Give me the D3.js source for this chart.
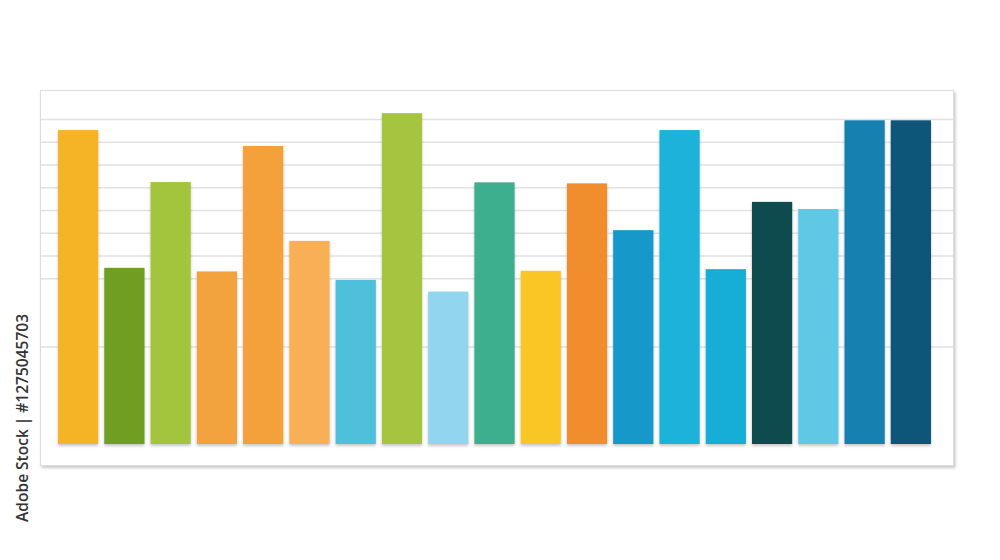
<!DOCTYPE html>
<html>
<head>
<meta charset="utf-8">
<script src="https://cdn.jsdelivr.net/npm/d3@7"></script>
<style>
  html, body { margin: 0; padding: 0; background: #ffffff; }
  svg { display: block; }
</style>
</head>
<body>
<svg id="chart" width="1000" height="560"></svg>
<script>
// ---- data ----
const categories = ["B1","B2","B3","B4","B5","B6","B7","B8","B9","B10","B11","B12","B13","B14","B15","B16","B17","B18","B19"];
const values = [96.6, 54.2, 80.6, 53.1, 91.7, 62.5, 50.5, 101.8, 46.9, 80.5, 53.3, 80.2, 65.8, 96.6, 53.8, 74.5, 72.3, 99.6, 99.6];
const barColors = ["#F5B428","#6F9E20","#A3C43D","#F4A23C","#F4A03B","#F8AF57","#4FC0DB","#A5C540","#92D5EE","#3CAE8E","#FAC625","#F28D2E","#1598C8","#1FB2D9","#16ADD6","#0D4C4F","#60C7E5","#1380B0","#0F5479"];
const gridValues = [100, 93, 86, 79, 72, 65, 58, 51, 30];
const creditText = "Adobe Stock | #1275045703";

// ---- layout ----
const svg = d3.select("#chart");
const panel = {x: 40.5, y: 90.5, w: 913, h: 375};
const baseline = 444;

const x = d3.scaleBand()
  .domain(categories)
  .range([55, 934])
  .paddingInner(0.13)
  .paddingOuter(0.065);

const y = d3.scaleLinear()
  .domain([0, 100])
  .range([baseline, 119]);

const defs = svg.append("defs");
const ps = defs.append("filter").attr("id", "panelShadow")
  .attr("x", "-5%").attr("y", "-5%").attr("width", "110%").attr("height", "115%");
ps.append("feDropShadow").attr("dx", 1.5).attr("dy", 2).attr("stdDeviation", 1.6)
  .attr("flood-color", "#000").attr("flood-opacity", 0.22);

const bs = defs.append("filter").attr("id", "barShadow")
  .attr("x", "-20%").attr("y", "-5%").attr("width", "140%").attr("height", "115%");
bs.append("feDropShadow").attr("dx", 0).attr("dy", 2).attr("stdDeviation", 1.5)
  .attr("flood-color", "#000").attr("flood-opacity", 0.22);

// panel
svg.append("rect")
  .attr("x", panel.x).attr("y", panel.y)
  .attr("width", panel.w).attr("height", panel.h)
  .attr("fill", "#ffffff")
  .attr("stroke", "#dcdcdc").attr("stroke-width", 1)
  .attr("filter", "url(#panelShadow)");

// gridlines
const yAxis = d3.axisLeft(y).tickValues(gridValues)
  .tickSize(-(panel.w - 1)).tickFormat("");
const ga = svg.append("g")
  .attr("transform", `translate(${panel.x + 0.5},0)`)
  .call(yAxis);
ga.select(".domain").remove();
ga.selectAll(".tick line").attr("stroke", "#e2e2e2").attr("stroke-width", 1.4);

// bars
svg.append("g").selectAll("rect")
  .data(values)
  .join("rect")
  .attr("x", (d, i) => x(categories[i]))
  .attr("width", x.bandwidth())
  .attr("y", d => y(d))
  .attr("height", d => y(0) - y(d))
  .attr("fill", (d, i) => barColors[i])
  .attr("filter", "url(#barShadow)");

// credit text
svg.append("text")
  .attr("transform", "translate(28,314) rotate(-90)")
  .attr("text-anchor", "end")
  .attr("font-family", "Open Sans, Noto Sans, sans-serif")
  .attr("font-size", 15.5)
  .attr("font-weight", 600)
  .attr("fill", "#333333")
  .text(creditText);
</script>
</body>
</html>
